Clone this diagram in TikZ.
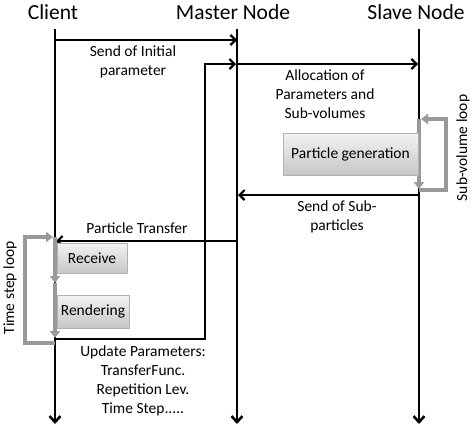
\documentclass[tikz,border=0pt]{standalone}
\usepackage{fontspec}
\setmainfont{Carlito}
\usetikzlibrary{arrows.meta}
\begin{document}
\begin{tikzpicture}[x=1pt,y=-1pt,
  title/.style={font=\fontsize{21.5}{24}\selectfont, inner sep=0pt},
  lbl/.style={font=\fontsize{15.5}{19}\selectfont, align=center, inner sep=0pt},
  life/.style={line width=2.6pt, -{Straight Barb[length=6pt,width=11pt]}},
  msg/.style={line width=2.2pt, line join=miter, -{Straight Barb[length=5pt,width=10pt]}},
  gline/.style={draw=black!40, line width=3.4pt, line join=miter},
  garrow/.style={gline, -{Triangle[length=7pt,width=10pt]}},
  box/.style={draw=black!30, line width=0.8pt, top color=black!5, bottom color=black!22,
    font=\fontsize{15.5}{18}\selectfont, inner sep=0pt}]
\useasboundingbox (0,0) rectangle (474,426);
% headers
\node[title] (client) at (53,12) {Client};
\node[title] (master) at (233,12) {Master Node};
\node[title] (slave) at (416,12) {Slave Node};
% lifelines
\coordinate (c0) at (55,29);  \coordinate (c1) at (55,424);
\coordinate (m0) at (237,29); \coordinate (m1) at (237,424);
\coordinate (s0) at (419,29); \coordinate (s1) at (419,424);
\draw[life] (c0) -- (c1);
\draw[life] (m0) -- (m1);
\draw[life] (s0) -- (s1);
% message coordinates
\coordinate (ca) at (56,40);  \coordinate (ma) at (237,40);
\coordinate (fb0) at (55,339); \coordinate (fb1) at (205,339);
\coordinate (fb2) at (205,64); \coordinate (mb) at (236,64);
\coordinate (mb2) at (238,64); \coordinate (sb) at (418,64);
\coordinate (sc) at (419,195); \coordinate (mc) at (238,195);
\coordinate (md) at (237,241); \coordinate (cd) at (56,241);
\draw[msg] (ca) -- (ma);
\draw[msg] (fb0) -- (fb1) -- (fb2) -- (mb);
\draw[msg] (mb2) -- (sb);
\draw[msg] (sc) -- (mc);
\draw[msg] (md) -- (cd);
% sub-volume loop
\coordinate (g0) at (419,119); \coordinate (g1) at (419,189);
\coordinate (g2) at (446,190); \coordinate (g3) at (446,119);
\coordinate (g4) at (421,119);
\draw[garrow] (g0) -- (g1);
\draw[garrow] (419,190) -- (g2) -- (g3) -- (g4);
% time step loop
\coordinate (t0) at (55,237); \coordinate (t1) at (55,283);
\coordinate (t2) at (55,338); \coordinate (t3) at (25,343);
\coordinate (t4) at (25,237); \coordinate (t5) at (53,237);
\draw[garrow] (t0) -- (t1);
\draw[garrow] (t1) -- (t2);
\draw[garrow] (55,343) -- (t3) -- (t4) -- (t5);
% boxes
\node[box, minimum width=135pt, minimum height=42pt] (gen) at (350.5,154) {Particle generation};
\node[box, minimum width=70pt, minimum height=30pt] (recv) at (92,258) {Receive};
\node[box, minimum width=72pt, minimum height=33pt] (rend) at (93,311.5) {Rendering};
% labels
\node[lbl] (l1) at (133,62) {Send of Initial\\parameter};
\node[lbl] (l2) at (325,94) {Allocation of\\Parameters and\\Sub-volumes};
\node[lbl] (l3) at (337,217) {Send of Sub-\\particles};
\node[lbl] (l4) at (137,228) {Particle Transfer};
\node[lbl] (l5) at (143,381) {Update Parameters:\\TransferFunc.\\Repetition Lev.\\Time Step.....};
\node[lbl, rotate=90] (l6) at (463,148) {Sub-volume loop};
\node[lbl, rotate=90] (l7) at (10,288) {Time step loop};
\end{tikzpicture}
\end{document}
